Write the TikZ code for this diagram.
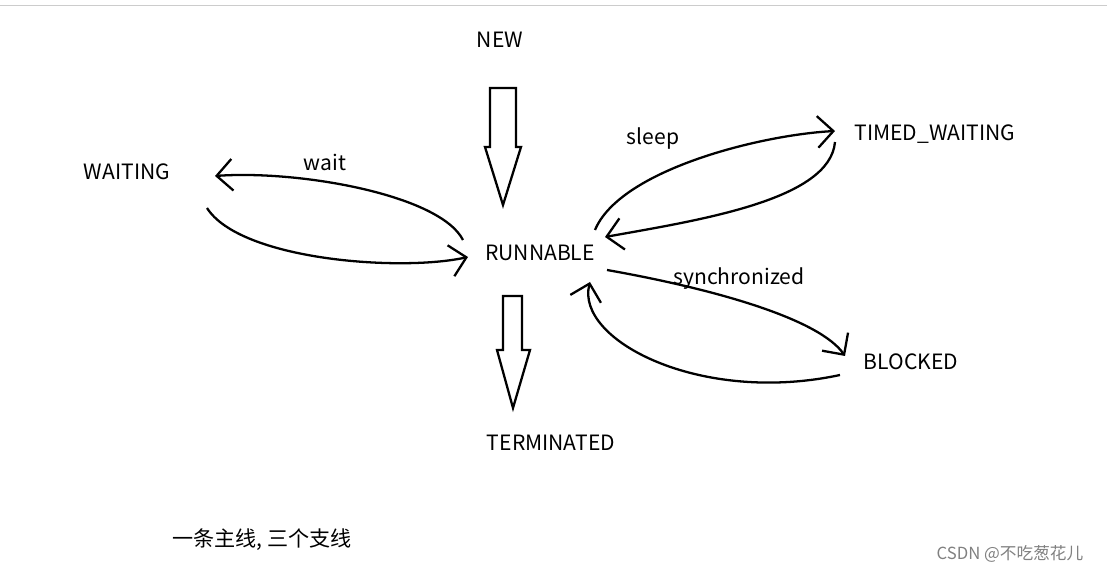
\documentclass[tikz,border=0pt]{standalone}
\usepackage{fontspec}
\setmainfont{Noto Sans CJK SC}
\usetikzlibrary{arrows.meta}
\begin{document}
\begin{tikzpicture}[x=0.02cm,y=-0.02cm,
  lbl/.style={inner sep=0pt,font=\fontsize{12}{14}\selectfont},
  hand/.style={line width=1.3pt,-{Straight Barb[length=9pt,width=18pt,line width=1.3pt]}},
  hollow/.style={draw,line width=1.3pt,fill=white}]
\useasboundingbox (0,0) rectangle (1107,573);
\draw[gray!40] (0,5) -- (1107,5);
\node[lbl] (new) at (500,40) {NEW};
\node[lbl] (waiting) at (127,172) {WAITING};
\node[lbl] (timed) at (935,134) {TIMED\_WAITING};
\node[lbl] (run) at (540,253) {RUNNABLE};
\node[lbl] (blocked) at (911,362) {BLOCKED};
\node[lbl] (term) at (551,443) {TERMINATED};
\node[lbl] (lwait) at (325,162) {wait};
\node[lbl] (lsleep) at (653,139) {sleep};
\node[lbl] (lsync) at (739,279) {synchronized};
\node[lbl] (note) at (262,540) {一条主线, 三个支线};
\node[lbl,text=gray,font=\fontsize{9.5}{12}\selectfont] (csdn) at (1010,554) {CSDN @不吃葱花儿};
% hollow arrows
\draw[hollow] (490,88) -- (516,88) -- (516,147) -- (521,147) -- (503,205) -- (485,147) -- (490,147) -- cycle;
\draw[hollow] (503,296) -- (522,296) -- (522,350) -- (530,350) -- (513,408) -- (497,350) -- (503,350) -- cycle;
% wait
\draw[hand] (463,240) .. controls (440,195) and (300,170) .. (215,176);
\draw[hand] (207,208) .. controls (240,260) and (400,272) .. (468,257);
% sleep
\draw[hand] (595,230) .. controls (620,170) and (760,135) .. (835,131);
\draw[hand] (835,142) .. controls (830,200) and (700,220) .. (605,237);
% synchronized
\draw[hand] (607,270) .. controls (720,290) and (820,320) .. (845,356);
\draw[hand] (840,375) .. controls (700,405) and (575,340) .. (590,282);
\end{tikzpicture}
\end{document}
